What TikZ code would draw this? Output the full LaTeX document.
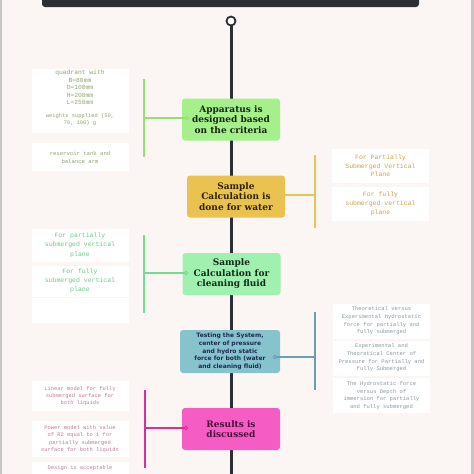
\documentclass[tikz,border=0pt]{standalone}
\usepackage{fontspec}
\newfontfamily\mainf{DejaVu Serif}
\newfontfamily\tstf{DejaVu Sans}
\newfontfamily\smf{Liberation Mono}
\definecolor{bg}{HTML}{FBF6F3}
\definecolor{dark}{HTML}{2B2E33}
\definecolor{gA}{HTML}{A6F08C}
\definecolor{gAl}{HTML}{97E070}
\definecolor{gAt}{HTML}{8FA472}
\definecolor{yB}{HTML}{E9C24F}
\definecolor{yBl}{HTML}{E5C45A}
\definecolor{yBt}{HTML}{C8A64E}
\definecolor{mC}{HTML}{A0F0B0}
\definecolor{mCl}{HTML}{72DC90}
\definecolor{mCt}{HTML}{6CC98A}
\definecolor{tD}{HTML}{86C3CC}
\definecolor{tDl}{HTML}{6A9FAE}
\definecolor{tDt}{HTML}{8A9AA0}
\definecolor{pE}{HTML}{F55CC4}
\definecolor{pEl}{HTML}{D62E9E}
\definecolor{pEt}{HTML}{C07A98}
\definecolor{txA}{HTML}{14280C}
\definecolor{txB}{HTML}{2E2308}
\definecolor{txC}{HTML}{0E2A18}
\definecolor{txD}{HTML}{1B2A55}
\definecolor{txE}{HTML}{4A0F3A}
\tikzset{
  mainbox/.style={rounded corners=3pt, minimum width=98pt, minimum height=42pt, align=center, inner sep=0pt, font=\mainf\bfseries\fontsize{9}{10.5}\selectfont},
  sbox/.style={fill=white, minimum width=97pt, align=center, inner sep=0pt},
  bracket/.style={line width=2pt},
  dotc/.style={circle, minimum size=3.5pt, inner sep=0pt, line width=0.8pt},
  mainline/.style={draw=dark, line width=3pt}
}
\begin{document}
\begin{tikzpicture}[x=1pt,y=-1pt]
\useasboundingbox (0,0) rectangle (474,474);
\fill[bg] (0,0) rectangle (474,474);
\fill[gray!45] (0,0) rectangle (2,474);
\fill[gray!45] (471,0) rectangle (474,474);
% top bar
\fill[dark, rounded corners=3pt] (42,-6) rectangle (419,7);
\node[circle, draw=dark, fill=white, line width=1.8pt, minimum size=9pt, inner sep=0pt] (top) at (231,21) {};
\coordinate (bot) at (231,480);
\draw[mainline] (top.south) -- (bot);

% main nodes
\node[mainbox, fill=gA, text=txA] (n1) at (231,119.5) {Apparatus is\\designed based\\on the criteria};
\node[mainbox, fill=yB, text=txB] (n2) at (236,196.5) {Sample\\Calculation is\\done for water};
\node[mainbox, fill=mC, text=txC] (n3) at (231.5,274) {Sample\\Calculation for\\cleaning fluid};
\node[mainbox, fill=tD, text=txD, minimum width=100pt, minimum height=43pt, font=\tstf\bfseries\fontsize{6}{7.7}\selectfont] (n4) at (230,351.5) {Testing the System,\\center of pressure\\and hydro static\\force for both (water\\and cleaning fluid)};
\node[mainbox, fill=pE, text=txE, align=left] (n5) at (231,429) {Results is\\discussed};

% connector dots
\node[dotc, draw=gAl, fill=gA] (d1) at (187,118) {};
\node[dotc, draw=yBl, fill=yB] (d2) at (275,195) {};
\node[dotc, draw=mCl, fill=mC] (d3) at (186,273) {};
\node[dotc, draw=tDl, fill=tD] (d4) at (275,357) {};
\node[dotc, draw=pEl, fill=pE] (d5) at (186,428) {};

% brackets
\coordinate (g1) at (144,79); \coordinate (g2) at (144,157); \coordinate (gm) at (144,118);
\draw[bracket, gAl] (g1) -- (g2); \draw[bracket, gAl] (gm) -- (d1.west);
\coordinate (y1) at (315,155); \coordinate (y2) at (315,228); \coordinate (ym) at (315,195);
\draw[bracket, yBl] (y1) -- (y2); \draw[bracket, yBl] (d2.east) -- (ym);
\coordinate (m1) at (144,235); \coordinate (m2) at (144,313); \coordinate (mm) at (144,273);
\draw[bracket, mCl] (m1) -- (m2); \draw[bracket, mCl] (mm) -- (d3.west);
\coordinate (t1) at (315,312); \coordinate (t2) at (315,390); \coordinate (tm) at (315,357);
\draw[bracket, tDl] (t1) -- (t2); \draw[bracket, tDl] (d4.east) -- (tm);
\coordinate (p1) at (145,390); \coordinate (p2) at (145,468); \coordinate (pm) at (145,428);
\draw[bracket, pEl] (p1) -- (p2); \draw[bracket, pEl] (pm) -- (d5.west);

% green small boxes
\node[sbox, minimum height=38pt, text=gAt, font=\smf\fontsize{6.3}{7.6}\selectfont] (ga) at (80,87.5) {quadrant with\\B=80mm\\D=100mm\\H=200mm\\L=250mm};
\node[sbox, minimum height=26pt, text=gAt, font=\smf\fontsize{5.4}{7}\selectfont] (gb) at (80,120) {weights supplied (50,\\70, 100) g};
\node[sbox, minimum height=28pt, text=gAt, font=\smf\fontsize{5.6}{8}\selectfont] (gc) at (80,157) {reservoir tank and\\balance arm};

% yellow small boxes
\node[sbox, minimum height=34pt, text=yBt, font=\smf\fontsize{6.5}{8.6}\selectfont] (ya) at (380.5,166) {For Partially\\Submerged Vertical\\Plane};
\node[sbox, minimum height=34pt, text=yBt, font=\smf\fontsize{6.5}{9}\selectfont] (yb) at (380.5,204) {For fully\\submerged vertical\\plane};

% mint small boxes
\node[sbox, minimum height=33pt, text=mCt, font=\smf\fontsize{6.5}{9.5}\selectfont] (ma) at (80,245) {For partially\\submerged vertical\\plane};
\node[sbox, minimum height=31pt, text=mCt, font=\smf\fontsize{6.5}{9}\selectfont] (mb) at (80,281) {For fully\\submerged vertical\\plane};
\node[sbox, minimum height=25pt] (mc) at (80,310.5) {};

% teal small boxes
\node[sbox, minimum height=35pt, text=tDt, font=\smf\fontsize{5.5}{7.7}\selectfont] (ta) at (381.5,321) {Theoretical versus\\Experimental hydrostatic\\force for partially and\\fully submerged};
\node[sbox, minimum height=35pt, text=tDt, font=\smf\fontsize{5.5}{7.7}\selectfont] (tb) at (381.5,358) {Experimental and\\Theoretical Center of\\Pressure for Partially and\\fully Submerged};
\node[sbox, minimum height=35pt, text=tDt, font=\smf\fontsize{5.5}{7.7}\selectfont] (tc) at (381.5,395.5) {The Hydrostatic force\\versus Depth of\\immersion for partially\\and fully submerged};

% pink small boxes
\node[sbox, minimum height=30pt, text=pEt, font=\smf\fontsize{5.4}{7.2}\selectfont] (pa) at (80,396) {Linear model for fully\\submerged surface for\\both liquids};
\node[sbox, minimum height=36pt, text=pEt, font=\smf\fontsize{5.4}{7.6}\selectfont] (pb) at (80,439) {Power model with value\\of R2 equal to 1 for\\partially submerged\\surface for both liquids};
\fill[white] (31.5,462) rectangle (128.5,474);
\node[text=pEt, font=\smf\fontsize{5.4}{7.6}\selectfont, inner sep=0pt] (pc) at (80,468.5) {Design is acceptable};
\end{tikzpicture}
\end{document}
